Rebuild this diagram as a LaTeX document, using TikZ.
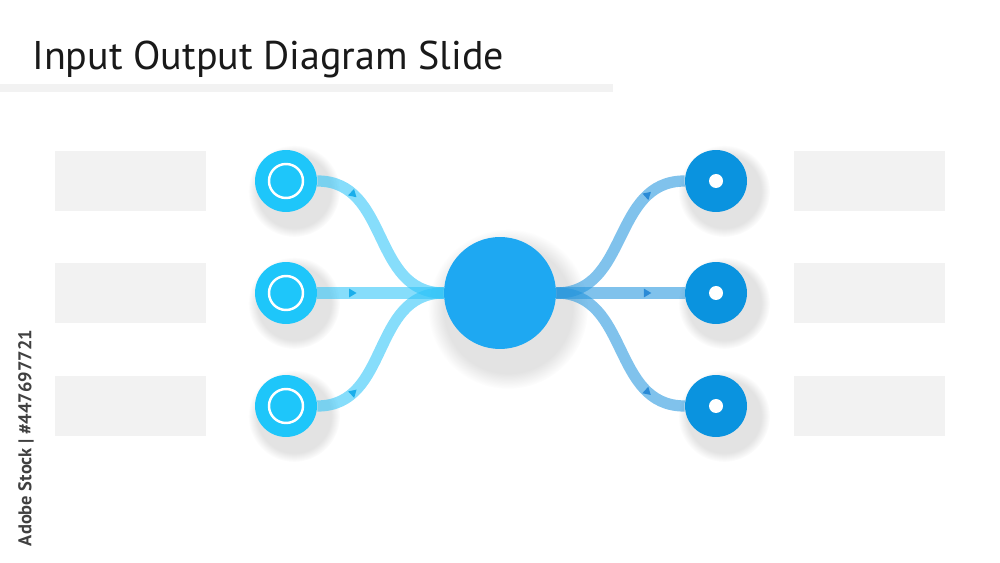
\documentclass[tikz,border=0pt]{standalone}
\usepackage{fontspec}
\setmainfont{PT Sans}
\usetikzlibrary{shapes,arrows.meta,calc,positioning,backgrounds,decorations.markings,fadings}

\definecolor{inblue}{HTML}{1EC6FA}
\definecolor{hubblue}{HTML}{1EA8F2}
\definecolor{outblue}{HTML}{0A93DF}
\definecolor{inwire}{HTML}{2EC4F8}
\definecolor{outwire}{HTML}{2496DE}
\definecolor{intip}{HTML}{1AAEEB}
\definecolor{outtip}{HTML}{2A8AD6}
\definecolor{boxgrey}{HTML}{F2F2F2}

\pgfdeclarelayer{shadow}
\pgfsetlayers{shadow,background,main}

\tikzset{
  softshadow/.style={fill=black,opacity=0.11,path fading=circle with fuzzy edge 20 percent},
  inport/.style={circle,fill=inblue,minimum size=1.24cm,inner sep=0pt},
  outport/.style={circle,fill=outblue,minimum size=1.24cm,inner sep=0pt},
  hubnode/.style={circle,fill=hubblue,minimum size=2.24cm,inner sep=0pt},
  textbox/.style={fill=boxgrey,minimum width=3.02cm,minimum height=1.22cm,inner sep=0pt},
  inline/.style={draw=inwire,draw opacity=0.58,line width=6.4pt,
      postaction={decorate},decoration={markings,
      mark=at position #1 with {\fill[intip] (2.2pt,0) -- (-2pt,2.5pt) -- (-2pt,-2.5pt) -- cycle;}}},
  outline/.style={draw=outwire,draw opacity=0.58,line width=6.4pt,
      postaction={decorate},decoration={markings,
      mark=at position #1 with {\fill[outtip] (2.2pt,0) -- (-2pt,2.5pt) -- (-2pt,-2.5pt) -- cycle;}}},
}

\begin{document}
\begin{tikzpicture}[x=0.02cm,y=-0.02cm]
  \useasboundingbox (0,0) rectangle (1000,563);

  % title
  \node[anchor=base west,inner sep=0pt,font=\fontsize{22.8}{26}\selectfont,text=black!90] (title) at (32,70) {Input Output Diagram Slide};
  \fill[black!5] (0,84) rectangle (613,92);

  % text boxes
  \foreach \y [count=\i] in {181,293,406} {
    \node[textbox] (lbox\i) at (130.5,\y) {};
    \node[textbox] (rbox\i) at (869,\y) {};
  }

  % ports
  \node[hubnode] (hub) at (500,293) {};
  \foreach \y [count=\i] in {181,293,406} {
    \node[inport] (in\i) at (286,\y) {};
    \draw[white,line width=1.4pt] (in\i) circle (17);
    \node[outport] (out\i) at (716,\y) {};
    \fill[white] (out\i) circle (7);
  }

  \begin{pgfonlayer}{shadow}
    \foreach \p in {in1,in2,in3,out1,out2,out3}
      \path[softshadow] ($(\p)+(8,10)$) circle (46);
    \path[softshadow] ($(hub)+(8,16)$) circle (80);
  \end{pgfonlayer}

  \begin{pgfonlayer}{background}
    \draw[inline=0.22] (in1.east) to[out=0,in=180,looseness=1.1] (hub.west);
    \draw[inline=0.28] (in2.east) -- (hub.west);
    \draw[inline=0.22] (in3.east) to[out=0,in=180,looseness=1.1] (hub.west);
    \draw[outline=0.78] (hub.east) to[out=0,in=180,looseness=1.1] (out1.west);
    \draw[outline=0.71] (hub.east) -- (out2.west);
    \draw[outline=0.78] (hub.east) to[out=0,in=180,looseness=1.1] (out3.west);
  \end{pgfonlayer}

  \node[rotate=90,inner sep=0pt,font=\bfseries\fontsize{10.5}{12}\selectfont,text=black!75] (stock) at (26,438) {Adobe Stock | \#447697721};
\end{tikzpicture}
\end{document}
